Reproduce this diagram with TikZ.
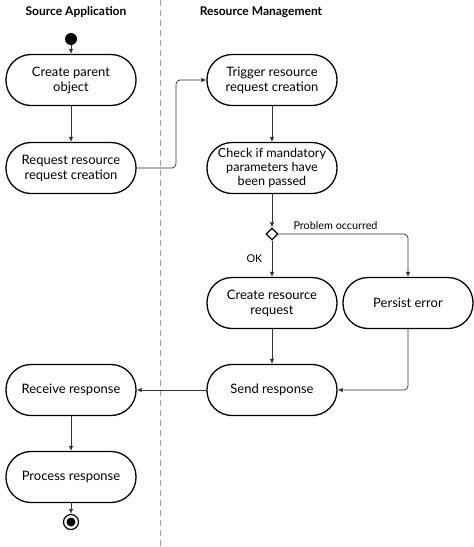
\documentclass[tikz,border=0pt]{standalone}
\usepackage{fontspec}
\setmainfont{Lato}
\usetikzlibrary{arrows.meta}
\usetikzlibrary{shapes.geometric}

\definecolor{LaneGrey}{RGB}{160,160,160}
\colorlet{ColourLine}{black!80}

\tikzset{
  actionbox/.style={rectangle, rounded corners=25pt, draw=black, line width=1.3pt,
    minimum width=130pt, minimum height=51pt, inner sep=1pt,
    align=center, font=\fontsize{13}{15}\selectfont},
  flow/.style={ColourLine, line width=0.7pt, rounded corners=4pt,
    -{Latex[length=5pt,width=4.5pt]}},
  lanetitle/.style={font=\fontsize{12}{14}\selectfont\bfseries},
  flowlabel/.style={text=black, font=\fontsize{10.8}{13}\selectfont},
}

\begin{document}
\begin{tikzpicture}[x={(1pt,0)}, y={(0,-1pt)}]

  \useasboundingbox (0,0) rectangle (474,547);

  % swimlanes
  \draw[LaneGrey, line width=1pt, dash pattern=on 6pt off 4pt] (160,0) -- (160,547);
  \node[lanetitle] (titleA) at (76,12) {Source Application};
  \node[lanetitle] (titleB) at (261,12) {Resource Management};

  % start / end
  \node[circle, fill=black, inner sep=0pt, minimum size=12pt] (start) at (71,39) {};
  \node[circle, draw=black, line width=1.2pt, inner sep=0pt, minimum size=15pt] (stop) at (71,522) {};
  \fill[black] (stop.center) circle (4.5pt);

  % actions
  \node[actionbox] (parent) at (71,80) {Create parent\\object};
  \node[actionbox] (request) at (71,168) {Request resource\\request creation};
  \node[actionbox] (trigger) at (272,80) {Trigger resource\\request creation};
  \node[actionbox, font=\fontsize{12.6}{14}\selectfont] (check) at (272,168)
    {Check if mandatory\\parameters have\\been passed};
  \node[diamond, draw=black, line width=1.2pt, inner sep=0pt,
    minimum size=12pt, fill=white] (decide) at (272,234) {};
  \node[actionbox] (createreq) at (272,303) {Create resource\\request};
  \node[actionbox] (persist) at (408,303) {Persist error};
  \node[actionbox] (send) at (272,390) {Send response};
  \node[actionbox] (receive) at (71,390) {Receive response};
  \node[actionbox] (process) at (71,477) {Process response};

  % flows
  \draw[flow] (start) -- (parent);
  \draw[flow] (parent) -- (request);
  \draw[flow] (request.east) -| (176,124) |- (trigger.west);
  \draw[flow] (trigger) -- (check);
  \draw[flow] (check) -- (decide);
  \draw[flow] (decide) -- (createreq)
    node[flowlabel, pos=0.5, left=6pt] {OK};
  \draw[flow] (decide.east) -| (persist.north)
    node[flowlabel, pos=0.22, above=1pt] {Problem occurred};
  \draw[flow] (createreq) -- (send);
  \draw[flow] (persist.south) |- (send.east);
  \draw[flow] (send.west) -- (receive.east);
  \draw[flow] (receive) -- (process);
  \draw[flow] (process) -- (stop);

\end{tikzpicture}
\end{document}
